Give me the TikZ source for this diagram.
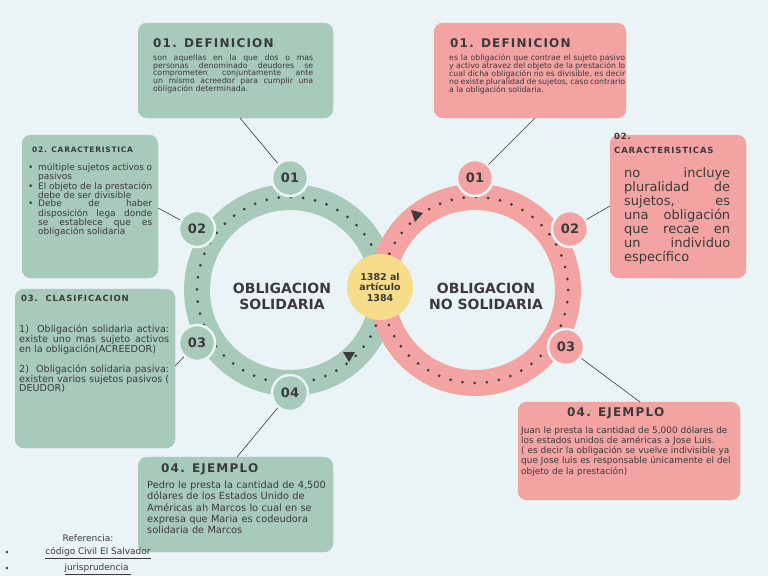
\documentclass[tikz,border=0pt]{standalone}
\usepackage{fontspec}
\setmainfont{DejaVu Sans}
\usetikzlibrary{calc}
\definecolor{bg}{HTML}{EAF4F6}
\definecolor{gr}{HTML}{A8CABB}
\definecolor{rd}{HTML}{F4A3A3}
\definecolor{yl}{HTML}{F7DC8A}
\definecolor{tx}{HTML}{3A3A3A}
\newcommand{\bitem}[1]{\par\noindent\makebox[10pt][l]{\textbullet}\parbox[t]{114pt}{\hyphenpenalty=10000 #1}\par}
\begin{document}
\begin{tikzpicture}[x=1pt,y=-1pt,
 box/.style={rounded corners=9pt,inner sep=0pt},
 ttl/.style={font=\bfseries\fontsize{12}{14}\selectfont\addfontfeatures{LetterSpace=10},text=tx,anchor=north west,inner sep=0pt},
 bod/.style={text=tx,anchor=north west,inner sep=0pt,align=justify,execute at begin node={\hyphenpenalty=10000\exhyphenpenalty=10000}},
 num/.style={circle,minimum size=36pt,draw=bg,line width=2.5pt,font=\bfseries\fontsize{13}{14}\selectfont,text=tx},
 con/.style={draw=tx,line width=0.6pt}]
\useasboundingbox (0,0) rectangle (768,576);
\fill[bg] (0,0) rectangle (768,576);
% rings
\draw[gr,line width=26pt] (290,290) circle (93);
\draw[rd,line width=26pt] (475,290) circle (93);
\begin{scope}
\clip (383,180) rectangle (420,260);
\draw[rd,line width=26pt] (475,290) circle (93);
\end{scope}
\draw[tx,line width=3pt,line cap=round,dash pattern=on 0pt off 12.2pt] (290,290) circle (93);
\draw[tx,line width=3pt,line cap=round,dash pattern=on 0pt off 12.2pt] (475,290) circle (93);
\fill[tx] (411,210) -- (423,213) -- (415,222) -- cycle;
\fill[tx] (343,352) -- (355,352) -- (349,362) -- cycle;
\node[circle,fill=yl,minimum size=66pt,align=center,font=\bfseries\fontsize{9.5}{10.5}\selectfont,text=tx] (c) at (380,287) {1382 al\\artículo\\1384};
\node[font=\bfseries\fontsize{14}{16}\selectfont,text=tx,align=center] (lt) at (282,296) {OBLIGACION\\SOLIDARIA};
\node[font=\bfseries\fontsize{14}{16}\selectfont,text=tx,align=center] (rt) at (486,296) {OBLIGACION\\NO SOLIDARIA};
% small circles
\node[num,fill=gr] (g1) at (290,178) {01};
\node[num,fill=gr] (g2) at (197,229) {02};
\node[num,fill=gr] (g3) at (197,343) {03};
\node[num,fill=gr] (g4) at (290,393) {04};
\node[num,fill=rd] (r1) at (475,178) {01};
\node[num,fill=rd] (r2) at (570,229) {02};
\node[num,fill=rd] (r3) at (566,347) {03};
% boxes
\filldraw[gr,box] (138,23) rectangle (333,118);
\filldraw[gr,box] (22,135) rectangle (158,278);
\filldraw[gr,box] (15,289) rectangle (175,448);
\filldraw[gr,box] (138,457) rectangle (333,552);
\filldraw[rd,box] (434,23) rectangle (626,118);
\filldraw[rd,box] (610,135) rectangle (746,278);
\filldraw[rd,box] (518,402) rectangle (740,500);
\coordinate (b1) at (240,118); \coordinate (b2) at (158,208);
\coordinate (b3) at (175,366); \coordinate (b4) at (237,457);
\coordinate (b5) at (535,118); \coordinate (b6) at (610,206);
\coordinate (b7) at (640,402);
\draw[con] (b1) -- (g1); \draw[con] (b2) -- (g2); \draw[con] (b3) -- (g3); \draw[con] (b4) -- (g4);
\draw[con] (b5) -- (r1); \draw[con] (b6) -- (r2); \draw[con] (b7) -- (r3);
% texts green
\node[ttl] (t1) at (153,38) {01. DEFINICION};
\node[bod,text width=160pt,font=\fontsize{7.8}{7.9}\selectfont] (d1) at (153,54) {son aquellas en la que dos o mas personas denominado deudores se comprometen conjuntamente ante un mismo acreedor para cumplir una obligación determinada.};
\node[ttl,font=\bfseries\fontsize{7.5}{9}\selectfont\addfontfeatures{LetterSpace=10}] (t2) at (32,147) {02. CARACTERISTICA};
\node[bod,text width=124pt,font=\fontsize{9}{9.2}\selectfont] (d2) at (28,161) {\bitem{múltiple sujetos activos o pasivos}\bitem{El objeto de la prestación debe de ser divisible}\bitem{Debe de haber disposición lega donde se establece que es obligación solidaria}};
\node[ttl,font=\bfseries\fontsize{8.5}{10}\selectfont\addfontfeatures{LetterSpace=10}] (t3) at (21,295) {03.\ \ CLASIFICACION};
\node[bod,text width=150pt,font=\fontsize{9.6}{9.8}\selectfont] (d3) at (19,325) {1)\ \ Obligación solidaria activa: existe uno mas sujeto activos en la obligación(ACREEDOR)\par\vspace{10pt}2)\ \ Obligación solidaria pasiva: existen varios sujetos pasivos ( DEUDOR)};
\node[ttl] (t4) at (161,463) {04. EJEMPLO};
\node[bod,text width=182pt,align=left,font=\fontsize{9.8}{11.2}\selectfont] (d4) at (147,481) {Pedro le presta la cantidad de 4,500 dólares de los Estados Unido de Américas ah Marcos lo cual en se expresa que Maria es codeudora solidaria de Marcos};
% texts red
\node[ttl] (t5) at (450,38) {01. DEFINICION};
\node[bod,text width=176pt,font=\fontsize{7.8}{7.9}\selectfont] (d5) at (449,54) {es la obligación que contrae el sujeto pasivo y activo atravez del objeto de la prestación lo cual dicha obligación no es divisible, es decir no existe pluralidad de sujetos, caso contrario a la obligación solidaria.};
\node[ttl,font=\bfseries\fontsize{8.5}{14}\selectfont\addfontfeatures{LetterSpace=10},align=left] (t6) at (614,133) {02.\\CARACTERISTICAS};
\node[bod,text width=106pt,font=\fontsize{13}{14}\selectfont] (d6) at (624,167) {no incluye pluralidad de sujetos, es una obligación que recae en un individuo específico};
\node[ttl] (t7) at (567,407) {04. EJEMPLO};
\node[bod,text width=218pt,align=left,font=\fontsize{8.9}{10.2}\selectfont] (d7) at (521,426) {Juan le presta la cantidad de 5,000 dólares de los estados unidos de américas a Jose Luis.\\( es decir la obligación se vuelve indivisible ya que Jose luis es responsable únicamente el del objeto de la prestación)};
% references
\node[font=\fontsize{9}{11}\selectfont,text=tx] (rf) at (88,538) {Referencia:};
\node[font=\fontsize{9}{11}\selectfont,text=tx] (r1t) at (98,553) {\underline{código Civil El Salvador}};
\node[font=\fontsize{9}{11}\selectfont,text=tx] (r2t) at (98,569) {\underline{jurisprudencia\ }};
\node[font=\fontsize{8}{8}\selectfont,text=tx] (bu1) at (7,553) {\textbullet};
\node[font=\fontsize{8}{8}\selectfont,text=tx] (bu2) at (7,569) {\textbullet};
\end{tikzpicture}
\end{document}
